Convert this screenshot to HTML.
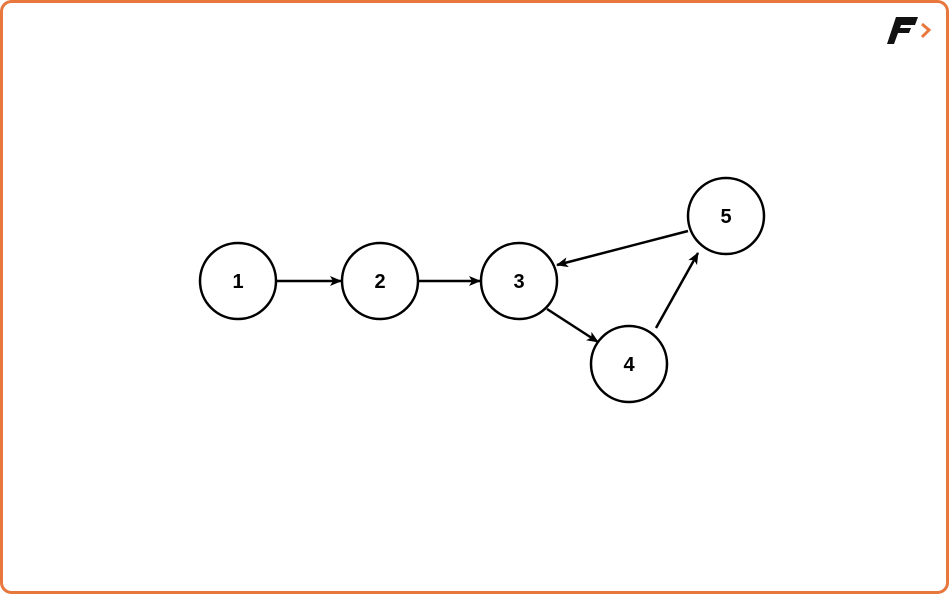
<!DOCTYPE html>
<html><head><style>
body{margin:0;background:#fff;}
</style></head><body>
<svg width="949" height="594" viewBox="0 0 949 594" xmlns="http://www.w3.org/2000/svg">
<defs><marker id="a" markerWidth="12" markerHeight="10" refX="11" refY="5" orient="auto" markerUnits="userSpaceOnUse"><path d="M0,0 L12,5 L0,10 L3,5 Z" fill="#000"/></marker></defs>
<rect x="1.5" y="1.5" width="946" height="591" rx="10" fill="#fff" stroke="#e8773e" stroke-width="3"/>
<g font-family="Liberation Sans, sans-serif">
<path d="M896 17 H918 L915 25 H901 L900 28 H911 L909 33 H898 L894 44 H887 Z" fill="#111"/>
<path d="M922 24 L929 30 L922 37" fill="none" stroke="#e8773e" stroke-width="3"/>
</g>
<g stroke="#000" stroke-width="2.5" fill="none">
<line x1="276" y1="281" x2="341" y2="281" marker-end="url(#a)"/>
<line x1="418" y1="281" x2="480" y2="281" marker-end="url(#a)"/>
<line x1="547" y1="309" x2="598" y2="342" marker-end="url(#a)"/>
<line x1="656" y1="328" x2="698" y2="253" marker-end="url(#a)"/>
<line x1="688" y1="231" x2="557" y2="265" marker-end="url(#a)"/>
<circle cx="238" cy="281" r="38"/>
<circle cx="380" cy="281" r="38"/>
<circle cx="519" cy="281" r="38"/>
<circle cx="629" cy="364" r="38"/>
<circle cx="726" cy="216" r="38"/>
</g>
<g font-family="Liberation Sans, sans-serif" font-weight="bold" font-size="20" text-anchor="middle">
<text x="238" y="288">1</text>
<text x="380" y="288">2</text>
<text x="519" y="288">3</text>
<text x="629" y="371">4</text>
<text x="726" y="223">5</text>
</g>
</svg>
</body></html>
